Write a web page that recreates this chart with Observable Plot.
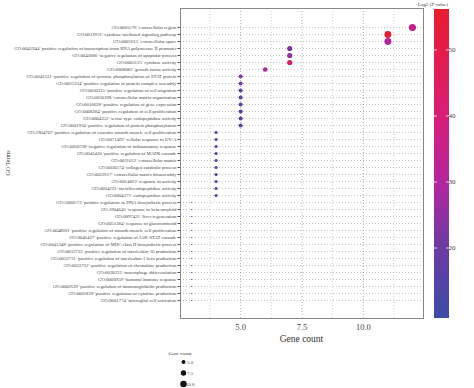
<!DOCTYPE html>
<html>
<head>
<meta charset="utf-8">
<script src="https://cdn.jsdelivr.net/npm/d3@7"></script>
<script src="https://cdn.jsdelivr.net/npm/@observablehq/plot@0.6"></script>
<style>
  html, body { margin: 0; padding: 0; background: #fff; }
  #chart { width: 474px; height: 388px; position: relative; }
</style>
</head>
<body>
<div id="chart"></div>
<script>
// ---- data (top to bottom) ----
const terms = [
  "GO:0005576~extracellular region",
  "GO:0019221~cytokine-mediated signaling pathway",
  "GO:0005615~extracellular space",
  "GO:0045944~positive regulation of transcription from RNA polymerase II promoter",
  "GO:0043066~negative regulation of apoptotic process",
  "GO:0005125~cytokine activity",
  "GO:0008083~growth factor activity",
  "GO:0042531~positive regulation of tyrosine phosphorylation of STAT protein",
  "GO:0031334~positive regulation of protein complex assembly",
  "GO:0030335~positive regulation of cell migration",
  "GO:0030198~extracellular matrix organization",
  "GO:0010628~positive regulation of gene expression",
  "GO:0008284~positive regulation of cell proliferation",
  "GO:0004252~serine-type endopeptidase activity",
  "GO:0001934~positive regulation of protein phosphorylation",
  "GO:1904707~positive regulation of vascular smooth muscle cell proliferation",
  "GO:0071492~cellular response to UV-A",
  "GO:0050728~negative regulation of inflammatory response",
  "GO:0043410~positive regulation of MAPK cascade",
  "GO:0031012~extracellular matrix",
  "GO:0030574~collagen catabolic process",
  "GO:0022617~extracellular matrix disassembly",
  "GO:0014823~response to activity",
  "GO:0004222~metalloendopeptidase activity",
  "GO:0004175~endopeptidase activity",
  "GO:2000573~positive regulation of DNA biosynthetic process",
  "GO:1904645~response to beta-amyloid",
  "GO:0097421~liver regeneration",
  "GO:0051384~response to glucocorticoid",
  "GO:0048661~positive regulation of smooth muscle cell proliferation",
  "GO:0046427~positive regulation of JAK-STAT cascade",
  "GO:0045348~positive regulation of MHC class II biosynthetic process",
  "GO:0032733~positive regulation of interleukin-10 production",
  "GO:0032731~positive regulation of interleukin-1 beta production",
  "GO:0032722~positive regulation of chemokine production",
  "GO:0030225~macrophage differentiation",
  "GO:0006959~humoral immune response",
  "GO:0002639~positive regulation of immunoglobulin production",
  "GO:0001819~positive regulation of cytokine production",
  "GO:0001774~microglial cell activation"
];
const geneCounts = [12, 11, 11, 7, 7, 7, 6, 5, 5, 5, 5, 5, 5, 5, 5,
  4, 4, 4, 4, 4, 4, 4, 4, 4, 4,
  3, 3, 3, 3, 3, 3, 3, 3, 3, 3, 3, 3, 3, 3, 3];
const negLog2P = [34, 56, 31, 22, 25, 43, 29, 23, 22, 16, 16, 15, 14, 16, 15,
  15, 15, 13, 12.5, 12.5, 13, 12.5, 12.5, 12, 12,
  11, 11, 11, 11, 11, 10.5, 10.5, 10.5, 10.5, 10.5, 10, 10, 10, 10, 10];
const xTicks = [5, 7.5, 10];
const xMinorGrid = [3.75, 6.25, 8.75, 11.25];
const colorTicks = [20, 30, 40, 50];
const sizeLegendValues = [5, 7.5, 10];

const data = terms.map((t, i) => ({term: t, count: geneCounts[i], p: negLog2P[i]}));

const W = 474, H = 388;
const font = "'Liberation Serif', 'DejaVu Serif', serif";

const plot = Plot.plot({
  width: W,
  height: H,
  marginLeft: 180,
  marginRight: 51,
  marginTop: 8,
  marginBottom: 70,
  style: {fontFamily: font, background: "#fff", color: "#333"},
  x: {domain: [2.55, 12.45]},
  y: {type: "point", domain: terms, padding: 0.6},
  color: {
    type: "linear",
    domain: [9.4, 20, 30, 40, 50, 56.2],
    range: ["#3C4CA8", "#6B3AA4", "#B4259E", "#D81E78", "#E41C48", "#E81C2C"],
    interpolate: "rgb"
  },
  r: {type: "linear", domain: [0, 3], range: [0.6, 3.6]},
  marks: [
    Plot.gridY({stroke: "#888", strokeOpacity: 0.85, strokeWidth: 0.6, strokeDasharray: "1,2"}),
    Plot.gridX(xMinorGrid, {stroke: "#999", strokeOpacity: 0.8, strokeWidth: 0.6, strokeDasharray: "1,2"}),
    Plot.gridX(xTicks, {stroke: "#888", strokeOpacity: 0.9, strokeWidth: 0.7, strokeDasharray: "1,2"}),
    Plot.frame({stroke: "#888", strokeWidth: 1}),
    Plot.axisX({ticks: xTicks, tickFormat: d3.format(".1f"), tickSize: 0, tickPadding: 5, fontSize: 8.5, label: null, fill: "#444"}),
    Plot.axisY({tickSize: 2.5, tickPadding: 1.5, fontSize: 4.8, label: null, fill: "#444", stroke: "#555"}),
    Plot.dot(data, {
      x: "count",
      y: "term",
      r: d => Math.sqrt(d.count - 3),
      fill: "p",
      stroke: null
    })
  ]
});

document.getElementById("chart").appendChild(plot);

// ---- titles and legends drawn onto the same SVG ----
const svg = d3.select(plot);
const xs = plot.scale("x");
const panelTop = 8, panelBottom = H - 70;

svg.append("text")
  .attr("x", (xs.apply(2.55) + xs.apply(12.45)) / 2)
  .attr("y", 342)
  .attr("text-anchor", "middle")
  .attr("font-family", font)
  .attr("font-size", 9.5)
  .attr("fill", "#333")
  .text("Gene count");

svg.append("text")
  .attr("transform", `translate(10,${(panelTop + panelBottom) / 2}) rotate(-90)`)
  .attr("text-anchor", "middle")
  .attr("font-family", font)
  .attr("font-size", 6)
  .attr("fill", "#333")
  .text("GO Terms");

// colour bar
const cs = plot.scale("color");
const cMin = 9.4, cMax = 56.2;
const barX = 434, barW = 15, barTop = 9, barBottom = 318;
const cy = v => barBottom - (v - cMin) / (cMax - cMin) * (barBottom - barTop);
const defs = svg.append("defs");
const grad = defs.append("linearGradient").attr("id", "cbar")
  .attr("x1", 0).attr("y1", 1).attr("x2", 0).attr("y2", 0);
d3.range(0, 1.0001, 0.05).forEach(t => {
  grad.append("stop").attr("offset", t).attr("stop-color", cs.apply(cMin + t * (cMax - cMin)));
});
svg.append("rect").attr("x", barX).attr("y", barTop).attr("width", barW)
  .attr("height", barBottom - barTop).attr("fill", "url(#cbar)");
colorTicks.forEach(v => {
  const y = cy(v);
  svg.append("line").attr("x1", barX).attr("x2", barX + 3).attr("y1", y).attr("y2", y)
    .attr("stroke", "#fff").attr("stroke-width", 0.8);
  svg.append("line").attr("x1", barX + barW - 3).attr("x2", barX + barW).attr("y1", y).attr("y2", y)
    .attr("stroke", "#fff").attr("stroke-width", 0.8);
  svg.append("text").attr("x", barX + barW + 3).attr("y", y).attr("dy", "0.35em")
    .attr("font-family", font).attr("font-size", 7).attr("fill", "#444").text(v);
});
const ct = svg.append("text").attr("x", 432).attr("y", 5.5)
  .attr("font-family", font).attr("font-size", 5).attr("fill", "#333");
ct.append("tspan").text("-Log2 (");
ct.append("tspan").attr("font-style", "italic").text("P");
ct.append("tspan").text(" value)");

// size legend
const rs = plot.scale("r");
svg.append("text").attr("x", 180).attr("y", 355)
  .attr("font-family", font).attr("font-size", 5).attr("fill", "#333").text("Gene count");
sizeLegendValues.forEach((v, i) => {
  const y = [362, 373, 384][i];
  svg.append("circle").attr("cx", 183.5).attr("cy", y).attr("r", rs.apply(Math.sqrt(v - 3)))
    .attr("fill", "#111");
  svg.append("text").attr("x", 190).attr("y", y).attr("dy", "0.35em")
    .attr("font-family", font).attr("font-size", 5).attr("fill", "#444")
    .text(d3.format(".1f")(v));
});
</script>
</body>
</html>
